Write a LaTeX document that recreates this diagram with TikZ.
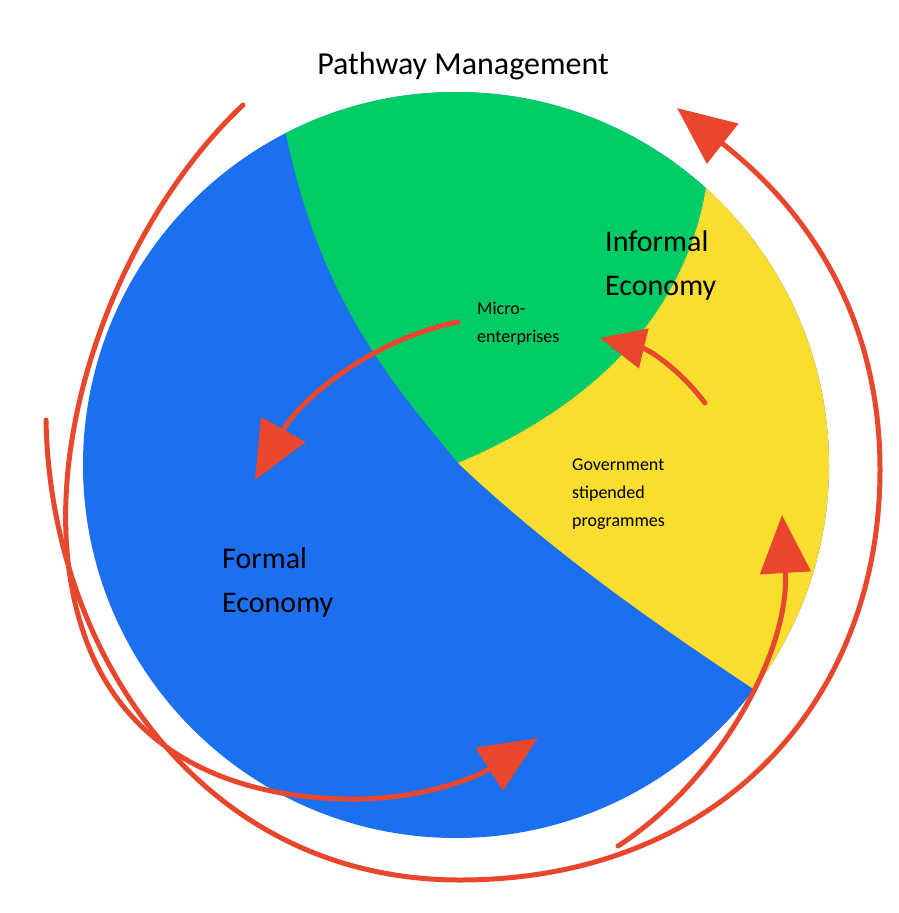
\documentclass[tikz,border=0pt]{standalone}
\usepackage{fontspec}
\setmainfont{Carlito}
\usetikzlibrary{arrows.meta}
\definecolor{cblue}{HTML}{1C6FEF}
\definecolor{cgreen}{HTML}{00CC66}
\definecolor{cyellow}{HTML}{F9DE2F}
\definecolor{cred}{HTML}{E8472E}
\begin{document}
\begin{tikzpicture}[x=1pt,y=-1pt,
  flow/.style={cred,line width=5pt,line cap=round},
  big/.style={flow,-{Triangle[length=58pt,width=50pt]}},
  small/.style={flow,-{Triangle[length=45pt,width=40pt]}},
  lbl/.style={anchor=west,align=left,inner sep=0pt,font=\fontsize{30}{44}\selectfont},
  sml/.style={anchor=west,align=left,inner sep=0pt,font=\fontsize{18}{28}\selectfont}]
\useasboundingbox (0,0) rectangle (898,913);
\fill[white] (0,0) rectangle (898,913);
\begin{scope}
\clip (456,465) circle (373);
\fill[cblue] (0,0) rectangle (898,913);
\fill[cgreen] (270,40) -- (285,130) .. controls (320,300) and (390,380) .. (458,463)
  .. controls (560,420) and (680,340) .. (706,188) -- (720,40) -- cycle;
\fill[cyellow] (706,188) .. controls (680,340) and (560,420) .. (458,463)
  .. controls (560,560) and (680,640) .. (752,688) -- (898,760) -- (898,150) -- cycle;
\end{scope}
\node[inner sep=0pt,font=\fontsize{32}{38}\selectfont] (title) at (463,66) {Pathway Management};
\node[lbl] (inf) at (605,265) {Informal\\Economy};
\node[lbl] (form) at (222,582) {Formal\\Economy};
\node[sml] (micro) at (477,324) {Micro-\\enterprises};
\node[sml] (gov) at (572,494) {Government\\stipended\\programmes};
\coordinate (a1) at (243,105);
\coordinate (a1e) at (538,738);
\coordinate (o1) at (46,420);
\coordinate (o1e) at (677,108);
\coordinate (b1) at (618,846);
\coordinate (b1e) at (782,515);
\coordinate (m1) at (458,322);
\coordinate (m1e) at (255,480);
\coordinate (g1) at (705,403);
\coordinate (g1e) at (600,338);
% formal arrow from top-left around left side
\draw[big] (a1) .. controls (110,230) and (20,480) .. (90,650)
  .. controls (140,770) and (260,800) .. (358,799)
  .. controls (430,798) and (480,775) .. (a1e);
% outer arc
\draw[big] (o1) .. controls (50,650) and (200,880) .. (460,880)
  .. controls (720,880) and (880,700) .. (880,470)
  .. controls (880,330) and (820,220) .. (o1e);
% branch up to programmes
\draw[big] (b1) .. controls (720,780) and (790,650) .. (b1e);
% micro-enterprises to formal
\draw[big] (m1) .. controls (370,340) and (300,400) .. (m1e);
% programmes to micro-enterprises
\draw[small] (g1) .. controls (680,370) and (650,350) .. (g1e);
\end{tikzpicture}
\end{document}
